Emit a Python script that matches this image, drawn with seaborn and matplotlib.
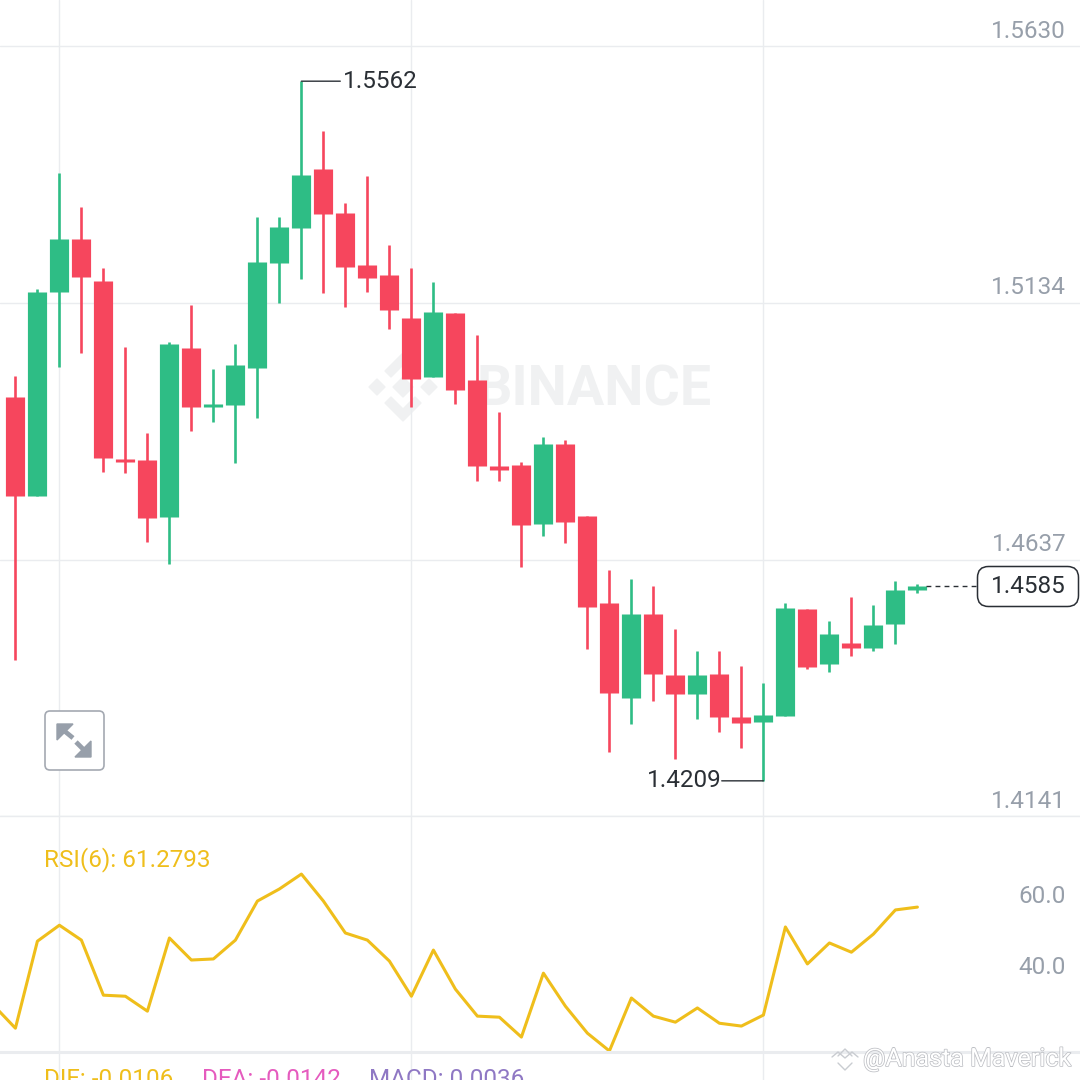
import pandas as pd
import seaborn as sns
import matplotlib.pyplot as plt
import matplotlib.patheffects as pe
from matplotlib.patches import FancyBboxPatch, Polygon

GREEN = '#2EBD85'
RED = '#F6465D'
GRID = '#EAECEF'
GRAY = '#979FAA'
DARK = '#2A2F35'
YELLOW = '#EFBE1B'

# candles, oldest first
opens = [1.4813, 1.4952, 1.4760, 1.5155, 1.5257, 1.5176, 1.4832, 1.4830, 1.4720, 1.5046, 1.4932, 1.4936, 1.5008, 1.5211,
         1.5278, 1.5392, 1.5307, 1.5207, 1.5188, 1.5104, 1.4990, 1.5114, 1.4985, 1.4817, 1.4820, 1.4706, 1.4861, 1.4722,
         1.4552, 1.4370, 1.4531, 1.4413, 1.4376, 1.4415, 1.4333, 1.4322, 1.4335, 1.4542, 1.4434, 1.4475, 1.4465, 1.4513, 1.4579]
closes = [1.4958, 1.4759, 1.5155, 1.5257, 1.5184, 1.4834, 1.4826, 1.4718, 1.5054, 1.4931, 1.4938, 1.5014, 1.5213, 1.5280,
          1.5381, 1.5305, 1.5203, 1.5182, 1.5120, 1.4986, 1.5116, 1.4965, 1.4818, 1.4811, 1.4703, 1.4861, 1.4710, 1.4546,
          1.4378, 1.4531, 1.4415, 1.4376, 1.4413, 1.4332, 1.4320, 1.4337, 1.4544, 1.4430, 1.4492, 1.4465, 1.4511, 1.4579, 1.4585]
highs = [1.4958, 1.4992, 1.5160, 1.5385, 1.5319, 1.5201, 1.5048, 1.4882, 1.5058, 1.5130, 1.5006, 1.5054, 1.5300, 1.5300,
         1.5562, 1.5466, 1.5327, 1.5379, 1.5245, 1.5201, 1.5174, 1.5114, 1.5072, 1.4923, 1.4826, 1.4873, 1.4869, 1.4722,
         1.4616, 1.4600, 1.4585, 1.4503, 1.4461, 1.4461, 1.4432, 1.4399, 1.4552, 1.4542, 1.4519, 1.4565, 1.4550, 1.4596, 1.4589]
lows = [1.4813, 1.4442, 1.4760, 1.5010, 1.5037, 1.4807, 1.4805, 1.4670, 1.4629, 1.4886, 1.4902, 1.4824, 1.4911, 1.5133,
        1.5180, 1.5153, 1.5126, 1.5155, 1.5083, 1.4931, 1.4990, 1.4938, 1.4789, 1.4788, 1.4623, 1.4683, 1.4668, 1.4463,
        1.4264, 1.4318, 1.4364, 1.4252, 1.4328, 1.4304, 1.4272, 1.4209, 1.4335, 1.4426, 1.4420, 1.4451, 1.4461, 1.4473, 1.4573]
rsi = [29.0, 22.5, 47.0, 51.5, 47.3, 31.8, 31.5, 27.3, 47.9, 41.7, 42.0, 47.3, 58.3, 61.7, 65.9, 58.3, 49.3, 47.3, 41.4,
       31.5, 44.5, 33.5, 25.9, 25.6, 20.0, 38.0, 28.7, 21.1, 16.1, 31.0, 25.9, 24.2, 28.2, 23.9, 23.1, 26.2, 51.0, 40.6,
       46.5, 43.9, 49.0, 55.8, 56.6]
price_ticks = [1.5630, 1.5134, 1.4637, 1.4141]
rsi_ticks = [60.0, 40.0]
time_ticks = [3, 19, 35]
last_price = 1.4585
high_mark = (14, 1.5562)
low_mark = (35, 1.4209)

sns.set_theme(style='whitegrid', rc={'grid.color': GRID, 'grid.linewidth': 1.0})
plt.rcParams['font.family'] = ['Roboto', 'DejaVu Sans']

candles = pd.DataFrame({'candle': range(len(opens)), 'open': opens, 'close': closes, 'high': highs, 'low': lows})
candles['dir'] = ['up' if c >= o else 'down' for o, c in zip(opens, closes)]
wicks = candles.melt(id_vars=['candle', 'dir'], value_vars=['low', 'high'], value_name='price')
bodies = candles.melt(id_vars=['candle', 'dir'], value_vars=['open', 'close'], value_name='price')
palette = {'up': GREEN, 'down': RED}

fig = plt.figure(figsize=(10.8, 10.8), dpi=100)
W, H = 1080, 1080
XMIN, XMAX = 6.6 / 22, 1086.6 / 22


def panel(top, bottom):
    a = fig.add_axes([0, 1 - bottom / H, 1, (bottom - top) / H], zorder=2)
    a.patch.set_visible(False)
    a.set_xlim(XMIN, XMAX)
    a.set_xticks(time_ticks)
    a.tick_params(length=0, labelbottom=False, labelleft=False)
    a.grid(True, axis='x')
    a.set_xlabel('')
    a.set_ylabel('')
    sns.despine(ax=a, left=True, right=True, top=True, bottom=False)
    a.spines['bottom'].set_color(GRID)
    return a


# watermark sits under the candles
bg = fig.add_axes([0, 0, 1, 1], zorder=1)
bg.set_xlim(0, W)
bg.set_ylim(H, 0)
bg.axis('off')
WM = '#F0F1F2'
cx, cy = 403, 387
bg.add_patch(Polygon([(cx, cy - 10), (cx + 10, cy), (cx, cy + 10), (cx - 10, cy)], color=WM))
for dx in (-26, 26):
    bg.add_patch(Polygon([(cx + dx, cy - 8), (cx + dx + 8, cy), (cx + dx, cy + 8), (cx + dx - 8, cy)], color=WM))
for s in (-1, 1):
    bg.add_patch(Polygon([(cx, cy + s * 34), (cx + 18, cy + s * 16), (cx + 12, cy + s * 10), (cx, cy + s * 22),
                          (cx - 12, cy + s * 10), (cx - 18, cy + s * 16)], color=WM))
bg.text(476, 405, 'BINANCE', color=WM, fontsize=40, fontweight='bold', va='baseline', ha='left')

# price panel
ax = panel(0, 816)
sns.lineplot(data=wicks, x='candle', y='price', units='candle', hue='dir', palette=palette, estimator=None,
             linewidth=1.9, legend=False, solid_capstyle='butt', ax=ax)
sns.lineplot(data=bodies, x='candle', y='price', units='candle', hue='dir', palette=palette, estimator=None,
             linewidth=13.8, legend=False, solid_capstyle='butt', ax=ax)
ax.set_ylim(1.4141, 1.5719)
ax.set_xlim(XMIN, XMAX)
ax.set_yticks(price_ticks)
ax.set_xlabel('')
ax.set_ylabel('')
ax.spines['bottom'].set_linewidth(1.0)
for p in price_ticks:
    ax.annotate(f'{p:.4f}', xy=(1, p), xycoords=('axes fraction', 'data'), xytext=(-10, 10.5),
                textcoords='offset points', ha='right', va='center', color=GRAY, fontsize=17.5)

ax.annotate(f'{high_mark[1]:.4f}', xy=high_mark, xytext=(30, 0), textcoords='offset points', ha='left', va='center',
            color=DARK, fontsize=17.5,
            arrowprops=dict(arrowstyle='-', color=DARK, lw=1, shrinkA=2, shrinkB=0, patchA=None, relpos=(0, 0.5)))
ax.annotate(f'{low_mark[1]:.4f}', xy=low_mark, xytext=(-30, 0), textcoords='offset points', ha='right', va='center',
            color=DARK, fontsize=17.5,
            arrowprops=dict(arrowstyle='-', color=DARK, lw=1, shrinkA=0, shrinkB=0, patchA=None, relpos=(1, 0.5)))

ax.plot([42.4, 44.7], [last_price, last_price], color=DARK, lw=1, dashes=(3.5, 3))

# rsi panel
ax2 = panel(816, 1052)
rsi_df = pd.DataFrame({'candle': range(len(rsi)), 'rsi': rsi})
sns.lineplot(data=rsi_df, x='candle', y='rsi', color=YELLOW, linewidth=2.2, ax=ax2)
ax2.set_ylim(15.8, 82.25)
ax2.set_xlim(XMIN, XMAX)
ax2.set_yticks([])
ax2.set_xlabel('')
ax2.set_ylabel('')
ax2.spines['bottom'].set_linewidth(2.2)
for r in rsi_ticks:
    ax2.annotate(f'{r:.1f}', xy=(1, r), xycoords=('axes fraction', 'data'), xytext=(-10, -1),
                 textcoords='offset points', ha='right', va='center', color=GRAY, fontsize=17.5)
ax2.text(44 / W, 1 - 44 / 236, 'RSI(6): 61.2793', transform=ax2.transAxes, color=YELLOW, fontsize=17.5,
         ha='left', va='center')

# macd strip, only its header is visible
ax3 = panel(1052, 1080)
ax3.set_ylim(0, 1)
ax3.set_yticks([])
ax3.spines['bottom'].set_visible(False)
for x, label, col in [(44, 'DIF: -0.0106', YELLOW), (202, 'DEA: -0.0142', '#E55BBE'), (369, 'MACD: 0.0036', '#8F78C4')]:
    fig.text(x / W, 1 - 1086 / H, label, color=col, fontsize=17.5, ha='left', va='baseline')

# overlay: expand button, last price badge and user mark
fg = fig.add_axes([0, 0, 1, 1], zorder=5)
fg.set_xlim(0, W)
fg.set_ylim(H, 0)
fg.axis('off')
fg.add_patch(FancyBboxPatch((45, 711), 59, 59, boxstyle='round,pad=0,rounding_size=5', fc='white', ec='#A4A9B2', lw=1.2))
fg.add_patch(Polygon([(57, 724), (73, 724), (57, 740)], color=GRAY))
fg.add_patch(Polygon([(91, 757), (75, 757), (91, 741)], color=GRAY))
fg.plot([62, 73], [729, 738], color=GRAY, lw=3.4, solid_capstyle='butt')
fg.plot([86, 76], [752, 742], color=GRAY, lw=3.4, solid_capstyle='butt')

fg.add_patch(FancyBboxPatch((977.5, 566.5), 101, 40, boxstyle='round,pad=0,rounding_size=11', fc='white', ec=DARK, lw=1.1))
fg.text(47.05, last_price, f'{last_price:.4f}', transform=ax.transData, color=DARK, fontsize=17.5, ha='center', va='center')

MARK = '#C9CCD1'
fg.plot([838, 845, 852], [1056, 1049, 1056], color=MARK, lw=1.0)
fg.plot([832, 838, 845, 852, 858], [1057, 1052, 1058, 1052, 1057], color=MARK, lw=1.0)
fg.plot([838, 845, 852], [1063, 1070, 1063], color=MARK, lw=1.0)
fg.text(863, 1059, '@Anasta Maverick', color='white', fontsize=18, ha='left', va='center',
        path_effects=[pe.withStroke(linewidth=1.1, foreground='#BDBFC4')])

fig.savefig('out.png', dpi=100, facecolor='white')
